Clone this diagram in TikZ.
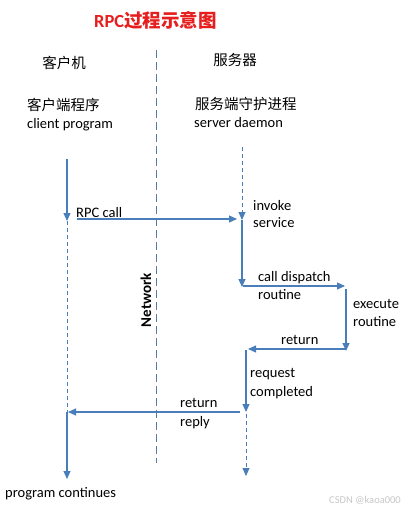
\documentclass[tikz,border=0pt]{standalone}
\usepackage{fontspec}
\setmainfont{Carlito}
\newfontfamily\cjk{Noto Sans CJK SC}
\usetikzlibrary{arrows.meta}
\definecolor{arrowblue}{RGB}{74,126,187}
\definecolor{netblue}{RGB}{90,120,165}
\definecolor{titlered}{RGB}{230,30,30}
\tikzset{
  lbl/.style={inner sep=0pt, anchor=base west, font=\fontsize{14.5}{16}\selectfont},
  cjklbl/.style={inner sep=0pt, font=\fontsize{14.5}{16}\selectfont\cjk},
  flow/.style={draw=arrowblue, line width=1.1pt, -{Triangle[length=8pt,width=7pt]}},
  life/.style={draw=arrowblue, line width=0.9pt, dash pattern=on 4pt off 3pt},
  lifearrow/.style={life, -{Triangle[length=8pt,width=7pt]}},
  netline/.style={draw=netblue, line width=1pt, dash pattern=on 8pt off 4pt}
}
\begin{document}
\begin{tikzpicture}[x=1pt,y=-1pt]
\useasboundingbox (0,0) rectangle (406,513);
% title
\node[inner sep=0pt, text=titlered, font=\fontsize{18.5}{20}\selectfont\bfseries] (title) at (155.5,20) {RPC{\cjk\bfseries 过程示意图}};
% headers
\node[cjklbl] (client) at (64,63) {客户机};
\node[cjklbl] (server) at (235,60) {服务器};
\node[cjklbl, anchor=west] (cprog) at (27,105) {客户端程序};
\node[lbl] (cprogen) at (27,129) {client program};
\node[cjklbl, anchor=west] (sdaemon) at (195,104) {服务端守护进程};
\node[lbl] (sdaemonen) at (194,128) {server daemon};
% network
\coordinate (n0) at (156,50);
\coordinate (n1) at (156,463);
\draw[netline] (n0) -- (n1);
\node[inner sep=0pt, rotate=90, font=\fontsize{15}{17}\selectfont\bfseries] (net) at (146,300) {Network};
% client lifeline
\coordinate (c0) at (67,159);
\coordinate (c1) at (67,221);
\coordinate (c2) at (67,412);
\coordinate (c3) at (67,479);
\draw[flow] (c0) -- (c1);
\draw[life] (c1) -- (c2);
\draw[flow] (c2) -- (c3);
% server lifeline
\coordinate (s0) at (242,147);
\coordinate (s1) at (242,220);
\coordinate (s2) at (242,287);
\draw[lifearrow] (s0) -- (s1);
\draw[flow] (s1) -- (s2);
% RPC call
\coordinate (rc0) at (77,219);
\coordinate (rc1) at (237,219);
\draw[flow] (rc0) -- (rc1);
\node[lbl] (rpccall) at (76,217) {RPC call};
\node[lbl] (invoke) at (253,210) {invoke};
\node[lbl] (service) at (253,227) {service};
% call dispatch
\coordinate (d0) at (243,286);
\coordinate (d1) at (345,286);
\draw[flow] (d0) -- (d1);
\node[lbl] (calldisp) at (258,281) {call dispatch};
\node[lbl] (routine1) at (258,299) {routine};
% execute
\coordinate (e0) at (346,289);
\coordinate (e1) at (346,351);
\draw[flow] (e0) -- (e1);
\node[lbl] (execute) at (353,308) {execute};
\node[lbl] (routine2) at (353,326) {routine};
% return
\coordinate (r0) at (346,349);
\coordinate (r1) at (248,349);
\draw[flow] (r0) -- (r1);
\node[lbl] (ret1) at (281,344) {return};
% request completed
\coordinate (q0) at (246,350);
\coordinate (q1) at (246,412);
\draw[flow] (q0) -- (q1);
\node[lbl] (request) at (250,377) {request};
\node[lbl] (completed) at (250,396) {completed};
% return reply
\coordinate (p0) at (240,412);
\coordinate (p1) at (68,412);
\draw[flow] (p0) -- (p1);
\node[lbl] (ret2) at (180,407) {return};
\node[lbl] (reply) at (180,426) {reply};
% server lifeline end
\coordinate (s3) at (246,414);
\coordinate (s4) at (246,476);
\draw[lifearrow] (s3) -- (s4);
% bottom
\node[lbl] (cont) at (5,497) {program continues};
\node[inner sep=0pt, text=black!22, font=\fontsize{10.5}{11}\selectfont] (wm) at (365,500) {CSDN @kaoa000};
\end{tikzpicture}
\end{document}
